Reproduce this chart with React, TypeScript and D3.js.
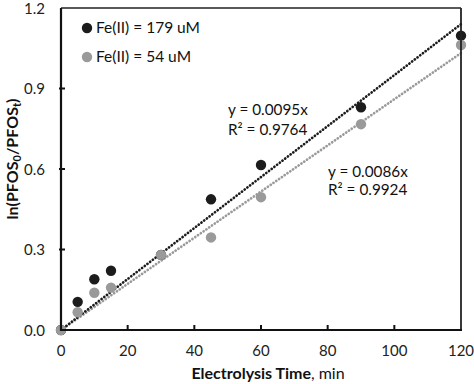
import React from "react";
import * as d3 from "d3";

const xTicks = [0, 20, 40, 60, 80, 100, 120];
const yTicks = [0.0, 0.3, 0.6, 0.9, 1.2];

const timeHigh = [0, 5, 10, 15, 30, 45, 60, 90, 120];
const valHigh = [0, 0.105, 0.189, 0.221, 0.28, 0.487, 0.615, 0.83, 1.097];

const timeLow = [0, 5, 10, 15, 30, 45, 60, 90, 120];
const valLow = [0, 0.066, 0.139, 0.158, 0.28, 0.345, 0.495, 0.767, 1.062];

const slopeHigh = 0.0095;
const slopeLow = 0.0086;

const legendLabels = ["Fe(II) = 179 uM", "Fe(II) = 54 uM"];
const eqHigh = ["y = 0.0095x", "R² = 0.9764"];
const eqLow = ["y = 0.0086x", "R² = 0.9924"];

const W = 474;
const H = 384;
const L = 61, R = 461, T = 8, B = 330;

const BLACK = "#1c1c1c";
const GREY = "#9a9a9a";
const FONT = "Lato, 'Open Sans', sans-serif";

export default function App() {
  const x = d3.scaleLinear().domain([0, 120]).range([L, R]);
  const y = d3.scaleLinear().domain([0, 1.2]).range([B, T]);
  const line = d3.line<[number, number]>().x(d => x(d[0])).y(d => y(d[1]));

  const trendHigh: [number, number][] = [[0, 0], [120, slopeHigh * 120]];
  const trendLow: [number, number][] = [[0, 0], [120, slopeLow * 120]];

  return (
    <svg width={W} height={H} style={{ position: "absolute", left: 0, top: 0, background: "#fff" }} fontFamily={FONT}>
      <rect x={0} y={0} width={W} height={H} fill="#fff" />
      {/* trend lines */}
      <path d={line(trendLow) || ""} stroke={GREY} strokeWidth={2.7} strokeDasharray="0.1 3.3" strokeLinecap="round" fill="none" />
      <path d={line(trendHigh) || ""} stroke={BLACK} strokeWidth={2.7} strokeDasharray="0.1 3.3" strokeLinecap="round" fill="none" />
      {/* points */}
      {timeHigh.map((t, i) => (
        <circle key={"h" + i} cx={x(t)} cy={y(valHigh[i])} r={5.2} fill={BLACK} />
      ))}
      {timeLow.map((t, i) => (
        <circle key={"l" + i} cx={x(t)} cy={y(valLow[i])} r={5.2} fill={GREY} />
      ))}
      {/* frame */}
      <line x1={L} x2={R} y1={T} y2={T} stroke="#222" strokeWidth={1.5} />
      <line x1={R} x2={R} y1={T} y2={B} stroke="#222" strokeWidth={1.8} />
      <line x1={L} x2={L} y1={T} y2={B + 1} stroke="#111" strokeWidth={2.2} />
      <line x1={L - 1} x2={R + 1} y1={B} y2={B} stroke="#111" strokeWidth={2.2} />
      {/* x ticks */}
      {xTicks.map(t => (
        <g key={"xt" + t}>
          {t > 0 && t < 120 && <line x1={x(t)} x2={x(t)} y1={B} y2={B - 5} stroke="#111" strokeWidth={2} />}
          <text x={x(t)} y={356} textAnchor="middle" fontSize={15} fill="#222">{t}</text>
        </g>
      ))}
      {/* y ticks */}
      {yTicks.map(t => (
        <g key={"yt" + t}>
          {t > 0 && t < 1.2 && <line x1={L - 2} x2={L + 4} y1={y(t)} y2={y(t)} stroke="#111" strokeWidth={2} />}
          <text x={45} y={y(t) + 5.5} textAnchor="end" fontSize={15} fill="#222">{t.toFixed(1)}</text>
        </g>
      ))}
      {/* axis titles */}
      <text x={268} y={379} textAnchor="middle" fontSize={16} fill="#111">
        <tspan fontWeight="bold">Electrolysis Time</tspan>
        <tspan>, min</tspan>
      </text>
      <text transform="translate(17.5,159) rotate(-90)" textAnchor="middle" fontSize={16} fontWeight="bold" fill="#111">
        <tspan>ln(PFOS</tspan>
        <tspan fontSize={11} dy={3}>0</tspan>
        <tspan dy={-3}>/PFOS</tspan>
        <tspan fontSize={11} dy={3}>t</tspan>
        <tspan dy={-3}>)</tspan>
      </text>
      {/* legend */}
      <circle cx={87} cy={28} r={5.2} fill={BLACK} />
      <text x={96} y={33} fontSize={15.5} fill="#111">{legendLabels[0]}</text>
      <circle cx={87} cy={57} r={5.2} fill={GREY} />
      <text x={96} y={62} fontSize={15.5} fill="#111">{legendLabels[1]}</text>
      {/* equations */}
      <text x={228} y={115} fontSize={15.3} fill="#111">{eqHigh[0]}</text>
      <text x={228} y={135} fontSize={15.3} fill="#111">{eqHigh[1]}</text>
      <text x={328} y={177} fontSize={15.3} fill="#111">{eqLow[0]}</text>
      <text x={328} y={195} fontSize={15.3} fill="#111">{eqLow[1]}</text>
    </svg>
  );
}
